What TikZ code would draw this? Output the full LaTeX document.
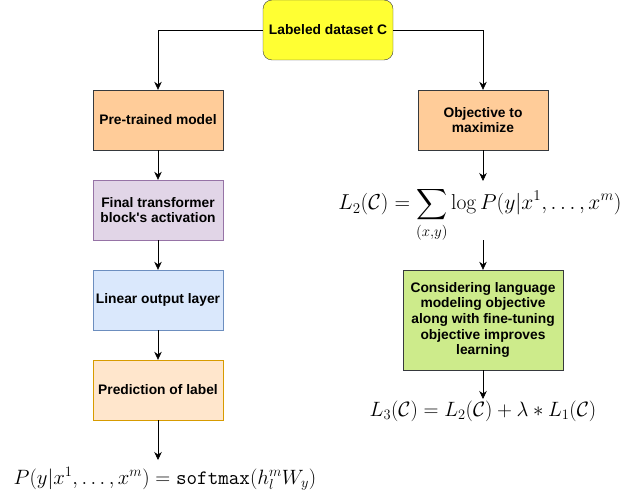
\documentclass[tikz,border=0pt]{standalone}
\usepackage{amsmath}
\usepackage[no-math]{fontspec}
\newfontfamily\boxfont{Liberation Sans}
\usetikzlibrary{arrows.meta}

\definecolor{dsyellow}{HTML}{FFFF33}
\definecolor{peach}{HTML}{FFCC99}
\definecolor{lilac}{HTML}{E1D5E7}
\definecolor{lilacline}{HTML}{9673A6}
\definecolor{skyblue}{HTML}{DAE8FC}
\definecolor{skyline}{HTML}{6C8EBF}
\definecolor{cream}{HTML}{FFE6CC}
\definecolor{creamline}{HTML}{D79B00}
\definecolor{lime}{HTML}{CDEB8B}
\definecolor{darkline}{HTML}{36393D}

\begin{document}
\begin{tikzpicture}[x=1pt, y=-1pt]
\tikzset{
    block/.style= {rectangle, draw=darkline, text=black, thin, align=center, minimum width=130pt, minimum height=60pt, inner sep=2pt, font=\boxfont\bfseries\fontsize{13.8}{15.7}\selectfont},
    dataset/.style= {block, fill=dsyellow, rounded corners=9pt},
    model/.style= {block, fill=peach},
    activ/.style= {block, fill=lilac, draw=lilacline},
    linear/.style= {block, fill=skyblue, draw=skyline},
    predict/.style= {block, fill=cream, draw=creamline},
    combine/.style= {block, fill=lime, minimum width=160pt, minimum height=100pt},
    eqn/.style= {anchor=north, inner sep=0pt, font=\fontsize{20.5}{24}\selectfont},
    flow/.style= {semithick, -{Stealth[length=8pt,width=7.5pt]}},
}
\useasboundingbox (0,0) rectangle (628,500);

\node[dataset] (data) at (328,30) {Labeled dataset C};

% left branch
\node[model] (pre) at (158,120) {Pre-trained model};
\node[activ] (act) at (158,210) {Final transformer\\block's activation};
\node[linear] (lin) at (158,300) {Linear output layer};
\node[predict] (pred) at (158,390) {Prediction of label};
\coordinate (predout) at (158,460);
\node[eqn] (softm) at (165,467) {$P(y|x^1,\ldots,x^m)=\texttt{softmax}(h_l^m W_y)$};

% right branch
\node[model] (obj) at (483,120) {Objective to\\maximize};
\coordinate (objout) at (483,181);
\node[eqn] (ltwo) at (480,187) {\scalebox{1.04}{$\displaystyle L_2(\mathcal{C})=\sum_{(x,y)}\log P(y|x^1,\ldots,x^m)$}};
\coordinate (ltwoout) at (483,240);
\node[combine] (lm) at (483,320) {Considering language\\modeling objective\\along with fine-tuning\\objective improves\\learning};
\coordinate (lmout) at (483,399);
\node[eqn] (lthree) at (483,401) {$L_3(\mathcal{C})=L_2(\mathcal{C})+\lambda*L_1(\mathcal{C})$};

\draw[flow] (data.west) -| (pre.north);
\draw[flow] (data.east) -| (obj.north);
\draw
(pre) edge[flow] (act)
(act) edge[flow] (lin)
(lin) edge[flow] (pred)
(pred) edge[flow] (predout)
(obj) edge[flow] (objout)
(ltwoout) edge[flow] (lm)
(lm) edge[flow] (lmout);
\end{tikzpicture}
\end{document}
